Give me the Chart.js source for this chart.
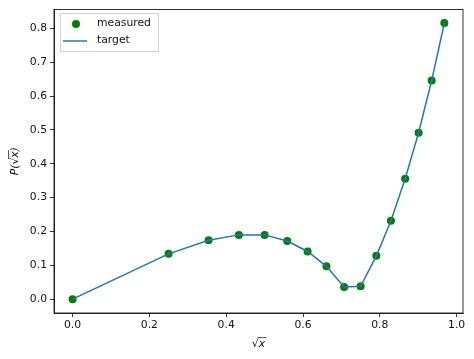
<!DOCTYPE html>
<html>
<head>
<meta charset="utf-8">
<script src="https://cdn.jsdelivr.net/npm/chart.js@4/dist/chart.umd.min.js"></script>
<style>
  html, body { margin: 0; padding: 0; background: #fff; }
  #wrap { width: 474px; height: 359px; }
</style>
</head>
<body>
<div id="wrap"><canvas id="chart" width="474" height="359"></canvas></div>
<script>
// data
var sqrtX = [0, 0.25, 0.354, 0.433, 0.5, 0.559, 0.612, 0.661, 0.707, 0.75, 0.791, 0.829, 0.866, 0.901, 0.935, 0.968];
var measured = [0, 0.134, 0.174, 0.190, 0.190, 0.172, 0.141, 0.097, 0.036, 0.038, 0.128, 0.232, 0.356, 0.492, 0.646, 0.816];
var target = [0, 0.134, 0.174, 0.190, 0.190, 0.172, 0.141, 0.097, 0.036, 0.038, 0.128, 0.232, 0.356, 0.492, 0.646, 0.816];
var xTicks = [0, 0.2, 0.4, 0.6, 0.8, 1.0];
var yTicks = [0, 0.1, 0.2, 0.3, 0.4, 0.5, 0.6, 0.7, 0.8];

var FONT = '"DejaVu Sans", sans-serif';
var SIZE = 10.8;

function points(ys) {
    return sqrtX.map(function (x, i) { return { x: x, y: ys[i] }; });
}

// frame, legend and axis titles drawn by hand, matplotlib style
var decorations = {
    id: 'decorations',
    afterDraw: function (chart) {
        var ctx = chart.ctx;
        var a = chart.chartArea;
        ctx.save();
        ctx.strokeStyle = '#000';
        ctx.lineWidth = 0.8;
        ctx.strokeRect(a.left, a.top, a.right - a.left, a.bottom - a.top);

        // legend
        var lx = 60, ly = 13, lw = 98, lh = 38;
        ctx.fillStyle = 'rgba(255,255,255,0.8)';
        ctx.strokeStyle = '#d0d0d0';
        ctx.lineWidth = 1;
        ctx.beginPath();
        ctx.rect(lx + 0.5, ly + 0.5, lw, lh);
        ctx.fill();
        ctx.stroke();

        ctx.fillStyle = 'green';
        ctx.beginPath();
        ctx.arc(76, 24, 4, 0, Math.PI * 2);
        ctx.fill();

        ctx.strokeStyle = '#1f77b4';
        ctx.lineWidth = 1.5;
        ctx.beginPath();
        ctx.moveTo(63, 41);
        ctx.lineTo(87, 41);
        ctx.stroke();

        ctx.fillStyle = '#111';
        ctx.font = SIZE + 'px ' + FONT;
        ctx.textBaseline = 'middle';
        ctx.textAlign = 'left';
        ctx.fillText('measured', 97, 23.5);
        ctx.fillText('target', 97, 40.5);

        // axis titles
        ctx.font = 'italic ' + SIZE + 'px ' + FONT;
        ctx.textAlign = 'center';
        var cx = (a.left + a.right) / 2;
        ctx.fillText('\u221Ax', cx, 344);
        // overbar on the radical
        ctx.lineWidth = 0.7;
        ctx.strokeStyle = '#111';
        ctx.beginPath();
        ctx.moveTo(cx - 1, 337.5);
        ctx.lineTo(cx + 8, 337.5);
        ctx.stroke();

        ctx.translate(15, (a.top + a.bottom) / 2);
        ctx.rotate(-Math.PI / 2);
        ctx.fillText('P(\u221Ax)', 0, 0);
        ctx.beginPath();
        ctx.moveTo(2, -6.5);
        ctx.lineTo(11, -6.5);
        ctx.stroke();
        ctx.restore();
    }
};

new Chart(document.getElementById('chart').getContext('2d'), {
    type: 'scatter',
    data: {
        datasets: [{
            label: 'measured',
            data: points(measured),
            showLine: false,
            pointRadius: 4,
            pointBackgroundColor: 'green',
            pointBorderWidth: 0,
            order: 2
        }, {
            label: 'target',
            data: points(target),
            showLine: true,
            borderColor: '#1f77b4',
            borderWidth: 1.5,
            pointRadius: 0,
            fill: false,
            order: 1
        }]
    },
    options: {
        responsive: false,
        animation: false,
        layout: { padding: { top: 8, right: 11, left: 0, bottom: 0 } },
        plugins: {
            legend: { display: false },
            tooltip: { enabled: false }
        },
        scales: {
            x: {
                type: 'linear',
                min: -0.0484,
                max: 1.0166,
                afterBuildTicks: function (axis) {
                    axis.ticks = xTicks.map(function (v) { return { value: v }; });
                },
                afterFit: function (axis) { axis.height = 46; },
                ticks: {
                    color: '#111',
                    font: { family: FONT, size: SIZE },
                    padding: 2,
                    maxRotation: 0,
                    callback: function (v) { return v.toFixed(1); }
                },
                grid: {
                    drawOnChartArea: false,
                    drawTicks: true,
                    tickLength: 4,
                    color: '#000',
                    lineWidth: 0.8
                },
                border: { display: true, color: '#000', width: 0.8 }
            },
            y: {
                type: 'linear',
                min: -0.0408,
                max: 0.856,
                afterBuildTicks: function (axis) {
                    axis.ticks = yTicks.map(function (v) { return { value: v }; });
                },
                afterFit: function (axis) { axis.width = 54; },
                ticks: {
                    color: '#111',
                    font: { family: FONT, size: SIZE },
                    padding: 3,
                    callback: function (v) { return v.toFixed(1); }
                },
                grid: {
                    drawOnChartArea: false,
                    drawTicks: true,
                    tickLength: 4,
                    color: '#000',
                    lineWidth: 0.8
                },
                border: { display: true, color: '#000', width: 0.8 }
            }
        }
    },
    plugins: [decorations]
});
</script>
</body>
</html>
